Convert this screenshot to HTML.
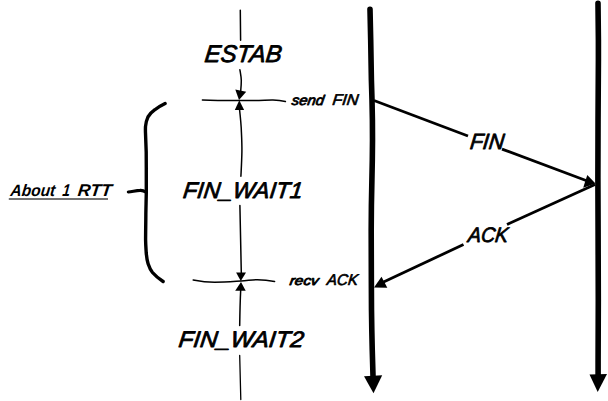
<!DOCTYPE html>
<html>
<head>
<meta charset="utf-8">
<title>FIN_WAIT diagram</title>
<style>
html,body{margin:0;padding:0;background:#fff;}
body{width:608px;height:401px;overflow:hidden;}
svg{display:block;}
text{font-family:"Liberation Sans",sans-serif;font-style:italic;fill:#000;}
</style>
</head>
<body>
<svg width="608" height="401" viewBox="0 0 608 401">
<rect x="0" y="0" width="608" height="401" fill="#ffffff"/>

<!-- thin state timeline -->
<g stroke="#000" stroke-width="1.5" fill="none" stroke-linecap="round">
  <path d="M240.3 10.3 L240.6 40.3"/>
  <path d="M239.9 69.8 C240.6 74 241.3 77 241.3 80.5 C241.3 84 241 88 240.7 91"/>
  <path d="M239.5 109 C240.5 118 241.2 125 241.4 132 C241.8 140 242 146 241.9 152 C241.7 162 241.2 170 240.9 176.3"/>
  <path d="M239.9 205.6 L241.3 273"/>
  <path d="M240.7 290 C240.2 300 239.9 312 239.7 325.5"/>
  <path d="M239.7 355.5 L240.8 399.6" stroke-width="1.3"/>
  <!-- horizontal ticks -->
  <path d="M202.4 100 C215 100.5 235 100.6 250 100.5 C262 100.4 268 99.9 273 100 C278 100.2 282 100.8 285.4 101.6"/>
  <path d="M193.2 280 C200 281.3 208 282.2 214.6 282.2 C225 282.2 233 281.5 241 281 C248 280.5 253 279.7 257.4 279.7 C263 279.7 270 280.5 274.6 281.4"/>
</g>
<!-- small arrowheads -->
<g fill="#000" stroke="none">
  <path d="M235.3 89.6 L246.2 91.8 L239 99.9 Z"/>
  <path d="M234.8 110 L244.1 110 L239.3 100.3 Z"/>
  <path d="M236.1 272.5 L246 272.5 L240.8 281 Z"/>
  <path d="M235.2 290.7 L245.7 290.7 L241 282 Z"/>
</g>

<!-- brace -->
<g stroke="#000" stroke-width="3.4" fill="none" stroke-linecap="round" stroke-linejoin="round">
  <path d="M165.1 103.5 C161 105.5 157 108 154.9 109.7 C151 112.5 149 115 148 116.9 C146.4 120.5 145.7 123 145.5 126.5 C145.4 129 145.4 131 145.5 133 C145.7 140 146 146 146.2 152 C146.3 165 146.3 180 146.3 192 C146.2 200 145.9 208 145.85 215 C145.8 224 145.6 232 145.6 240 C145.7 245 146 249 146.2 252.5 C146.6 257 147 260.5 148.1 263.7 C149.2 267 150.5 270 152.5 272.5 C155.5 276 159 278.8 163.1 281.5"/>
  <path d="M128.3 192 C132 191.8 136 190.4 140 190.4 C142.5 190.2 144.5 191.2 146.2 192.3" stroke-width="3.1"/>
</g>

<!-- thick timelines -->
<g stroke="#000" stroke-width="5.6" fill="none" stroke-linecap="round" stroke-linejoin="round">
  <path d="M370 9.3 L370.7 40 L371.4 80 L372 100 L372.4 120 L372.5 140 L372.3 160 L371.9 180 L371.4 205 L371.2 230 L371.35 280 L371.5 310 L371.8 330 L372.25 350 L373 376"/>
  <path d="M598 3.3 L598.4 40 L598.4 60 L598.05 120 L597.9 178 L598.1 230 L598.3 300 L598.1 361 L598.1 375"/>
</g>
<g fill="#000" stroke="none">
  <path d="M364 376.2 L382.2 375.3 L373.5 393.2 Z"/>
  <path d="M589.5 374.5 L607 374 L597.7 392 Z"/>
</g>

<!-- FIN / ACK arrows -->
<g stroke="#000" stroke-width="2.8" fill="none" stroke-linecap="butt">
  <path d="M374 100.5 L468 136.05"/>
  <path d="M502 149.1 L588 181.3"/>
  <path d="M595 184.5 L507 224.5"/>
  <path d="M463.5 244.5 L383 282.3"/>
</g>
<g fill="#000" stroke="none">
  <path d="M595.5 183.5 L587.3 175 L583.2 187.8 Z"/>
  <path d="M374 287.4 L381.5 276.8 L387.3 287.8 Z"/>
</g>

<!-- labels -->
<g stroke="#000" stroke-width="0.8" stroke-linejoin="round">
<text transform="translate(204.02 61.6) skewX(-6.5)" font-size="24" textLength="77" lengthAdjust="spacingAndGlyphs">ESTAB</text>
<text transform="translate(182.58 198) skewX(-6.5)" font-size="22.5" textLength="119.5" lengthAdjust="spacingAndGlyphs">FIN_WAIT1</text>
<text transform="translate(178.08 347.1) skewX(-6.5)" font-size="22.5" textLength="125" lengthAdjust="spacingAndGlyphs">FIN_WAIT2</text>
<text transform="translate(469.40 149) skewX(-6.5)" font-size="22" textLength="34" lengthAdjust="spacingAndGlyphs">FIN</text>
<text transform="translate(467.44 241.7) skewX(-6.5)" font-size="21" textLength="40" lengthAdjust="spacingAndGlyphs">ACK</text>
</g>
<g stroke="#000" stroke-width="0.65" stroke-linejoin="round">
<text transform="translate(291.19 104.7) skewX(-8)" font-size="14" textLength="32.3" lengthAdjust="spacingAndGlyphs" stroke-width="0.8">send</text>
<text transform="translate(331.96 104.7) skewX(-6.5)" font-size="15.5" textLength="26" lengthAdjust="spacingAndGlyphs">FIN</text>
<text transform="translate(289.24 284.8) skewX(-8)" font-size="13" textLength="29" lengthAdjust="spacingAndGlyphs" stroke-width="0.85">recv</text>
<text transform="translate(326.56 284.7) skewX(-6.5)" font-size="15.5" textLength="31" lengthAdjust="spacingAndGlyphs">ACK</text>
</g>
<g font-weight="bold">
<text transform="translate(10.12 195.8) skewX(-6.5)" font-size="16.5" textLength="44.6" lengthAdjust="spacingAndGlyphs">About</text>
<text transform="translate(62.00 195.8) skewX(-6.5)" font-size="17" textLength="7.6" lengthAdjust="spacingAndGlyphs">1</text>
<text transform="translate(77.20 195.8) skewX(-6.5)" font-size="17" textLength="34" lengthAdjust="spacingAndGlyphs">RTT</text>
</g>
<path d="M8.8 199.1 L108 199.1" stroke="#444" stroke-width="1.5" fill="none"/>
</svg>
</body>
</html>
